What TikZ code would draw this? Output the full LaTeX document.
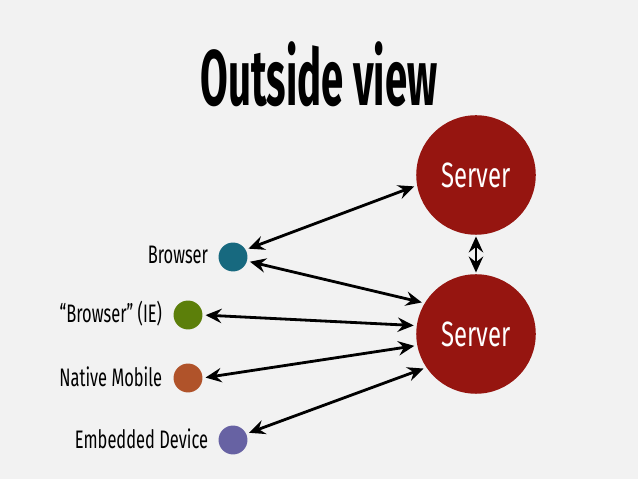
\documentclass[tikz,border=0pt]{standalone}
\usepackage{fontspec}
\setmainfont[FakeStretch=0.65]{Fira Sans}
\newfontfamily\titlefont[FakeStretch=0.51]{Fira Sans}
\newfontfamily\servfont[FakeStretch=0.68]{Fira Sans}
\usetikzlibrary{arrows.meta}
\definecolor{bgcol}{HTML}{F2F2F2}
\definecolor{servred}{RGB}{150,21,16}
\definecolor{teal}{RGB}{23,105,127}
\definecolor{olive}{RGB}{92,127,10}
\definecolor{rust}{RGB}{176,83,42}
\definecolor{lilac}{RGB}{103,98,163}

\begin{document}
\begin{tikzpicture}[x=0.025cm,y=0.025cm,
 server/.style={circle,fill=servred,minimum size=85pt,inner sep=0pt,
   text=white,font=\servfont\fontsize{25}{25}\selectfont},
 dot/.style={circle,minimum size=29*0.709pt,inner sep=0pt},
 lbl/.style={anchor=east,font=\fontsize{18}{18}\selectfont},
 arr/.style={{Stealth[length=4mm,width=3.6mm,inset=1.4mm]}-{Stealth[length=4mm,width=3.6mm,inset=1.4mm]},line width=2pt,shorten <=2pt,shorten >=2pt}]
\fill[bgcol] (0,0) rectangle (638,479);
\useasboundingbox (0,0) rectangle (638,479);
\node[anchor=base,font=\titlefont\bfseries\fontsize{56}{56}\selectfont] (title) at (319,373) {Outside view};
\node[server] (top) at (476,304) {Server};
\node[server] (bottom) at (476,145) {Server};
\node[dot,fill=teal] (browser) at (233,222) {};
\node[dot,fill=olive] (ie) at (188,164) {};
\node[dot,fill=rust] (mobile) at (188,101) {};
\node[dot,fill=lilac] (device) at (233,39) {};
\node[lbl] (browserlbl) at (213,224) {Browser};
\node[lbl] (ielbl) at (167,165) {“Browser" (IE)};
\node[lbl] (mobilelbl) at (167,102) {Native Mobile};
\node[lbl] (devicelbl) at (213,40) {Embedded Device};
\draw[arr] (browser.30) -- (top.190);
\draw[arr] (browser.-16) -- (bottom.149);
\draw[arr] (ie.0) -- (bottom.172);
\draw[arr] (mobile.0) -- (bottom.191);
\draw[arr] (device.25) -- (bottom.214);
\draw[arr,shorten <=1pt,shorten >=1pt] (top.south) -- (bottom.north);
\end{tikzpicture}
\end{document}
